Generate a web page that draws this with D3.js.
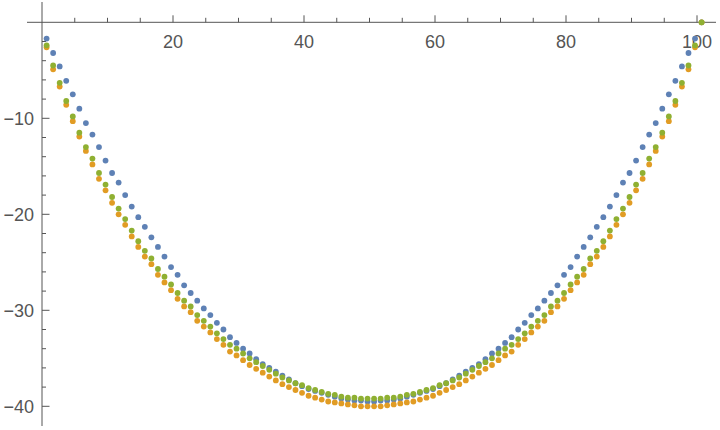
<!DOCTYPE html>
<html><head><meta charset="utf-8">
<script src="https://cdn.jsdelivr.net/npm/d3@7"></script>
<style>body{margin:0;background:#fff}</style>
</head><body>
<svg width="720" height="430"></svg>
<script>
// series values, index 1..101
const blue = [-1.7,-3.2,-4.6,-6.1,-7.5,-9.0,-10.5,-11.7,-13.0,-14.4,-15.7,-16.7,-18.0,-19.2,-20.3,-21.3,-22.4,-23.4,-24.4,-25.5,-26.3,-27.4,-28.2,-29.0,-29.8,-30.5,-31.3,-32.0,-32.8,-33.4,-34.0,-34.5,-35.1,-35.6,-36.0,-36.4,-36.8,-37.2,-37.6,-37.9,-38.2,-38.4,-38.6,-38.8,-39.0,-39.2,-39.3,-39.4,-39.4,-39.5,
  -39.5,-39.4,-39.4,-39.3,-39.2,-39.0,-38.8,-38.6,-38.4,-38.2,-37.9,-37.6,-37.2,-36.8,-36.4,-36.0,-35.6,-35.1,-34.5,-34.0,-33.4,-32.8,-32.0,-31.3,-30.5,-29.8,-29.0,-28.2,-27.4,-26.3,-25.5,-24.4,-23.4,-22.4,-21.3,-20.3,-19.2,-18.0,-16.7,-15.7,-14.4,-13.0,-11.7,-10.5,-9.0,-7.5,-6.1,-4.6,-3.2,-1.7,0];
const orange = [-2.6,-4.9,-6.7,-8.6,-10.3,-11.9,-13.4,-14.8,-16.3,-17.5,-18.8,-20.0,-21.1,-22.3,-23.4,-24.4,-25.2,-26.3,-27.1,-27.9,-28.8,-29.6,-30.2,-31.1,-31.7,-32.3,-33.0,-33.6,-34.3,-34.7,-35.2,-35.7,-36.1,-36.5,-36.9,-37.3,-37.7,-38.0,-38.3,-38.6,-38.9,-39.1,-39.3,-39.5,-39.6,-39.7,-39.8,-39.9,-40.0,-40.0,
  -40.0,-40.0,-39.9,-39.8,-39.7,-39.6,-39.5,-39.3,-39.1,-38.9,-38.6,-38.3,-38.0,-37.7,-37.3,-36.9,-36.5,-36.1,-35.7,-35.2,-34.7,-34.3,-33.6,-33.0,-32.3,-31.7,-31.1,-30.2,-29.6,-28.8,-27.9,-27.1,-26.3,-25.2,-24.4,-23.4,-22.3,-21.1,-20.0,-18.8,-17.5,-16.3,-14.8,-13.4,-11.9,-10.3,-8.6,-6.7,-4.9,-2.6,0];
const green = [-2.4,-4.5,-6.3,-8.2,-9.8,-11.5,-13.0,-14.2,-15.7,-16.9,-18.2,-19.4,-20.5,-21.7,-22.8,-23.8,-24.6,-25.7,-26.5,-27.3,-28.2,-29.0,-29.6,-30.5,-31.1,-31.7,-32.4,-33.0,-33.6,-34.0,-34.5,-35.0,-35.4,-35.8,-36.2,-36.6,-37.0,-37.3,-37.6,-37.8,-38.1,-38.3,-38.5,-38.7,-38.8,-39.0,-39.1,-39.1,-39.2,-39.2,
  -39.2,-39.2,-39.1,-39.1,-39.0,-38.8,-38.7,-38.5,-38.3,-38.1,-37.8,-37.6,-37.3,-37.0,-36.6,-36.2,-35.8,-35.4,-35.0,-34.5,-34.0,-33.6,-33.0,-32.4,-31.7,-31.1,-30.5,-29.6,-29.0,-28.2,-27.3,-26.5,-25.7,-24.6,-23.8,-22.8,-21.7,-20.5,-19.4,-18.2,-16.9,-15.7,-14.2,-13.0,-11.5,-9.8,-8.2,-6.3,-4.5,-2.4,0];
const series = [
  {values: blue, color: "#5e81b5"},
  {values: orange, color: "#e19c24"},
  {values: green, color: "#8fb032"}
];
const xMajor = [20, 40, 60, 80, 100];
const yMajor = [-10, -20, -30, -40];

const svg = d3.select("svg");
const x = d3.scaleLinear().domain([0, 100]).range([42, 697]);
const y = d3.scaleLinear().domain([0, -40]).range([22.3, 406.3]);
const axisColor = "#555";
const font = "'Liberation Sans', Arial, sans-serif";

// axes lines
svg.append("line").attr("x1", 27).attr("x2", 716).attr("y1", y(0)).attr("y2", y(0))
  .attr("stroke", axisColor).attr("stroke-width", 1);
svg.append("line").attr("x1", x(0)).attr("x2", x(0)).attr("y1", 2).attr("y2", 426)
  .attr("stroke", axisColor).attr("stroke-width", 1);

// x ticks
d3.range(5, 105, 5).forEach(t => {
  const major = t % 20 === 0;
  svg.append("line").attr("x1", x(t)).attr("x2", x(t))
    .attr("y1", y(0)).attr("y2", y(0) - (major ? 7 : 4.5))
    .attr("stroke", axisColor);
});
svg.selectAll(".xl").data(xMajor).join("text")
  .attr("x", d => x(d)).attr("y", y(0) + 26)
  .attr("text-anchor", "middle").attr("font-family", font).attr("font-size", 18)
  .attr("fill", "#555").text(d => d);

// y ticks
d3.range(-2, -42, -2).forEach(t => {
  const major = t % 10 === 0;
  svg.append("line").attr("x1", x(0)).attr("x2", x(0) + (major ? 7.5 : 4))
    .attr("y1", y(t)).attr("y2", y(t)).attr("stroke", axisColor);
});
svg.selectAll(".yl").data(yMajor).join("text")
  .attr("x", x(0) - 8).attr("y", d => y(d) + 6.5)
  .attr("text-anchor", "end").attr("font-family", font).attr("font-size", 18)
  .attr("fill", "#555").text(d => "\u2212" + Math.abs(d));

// points
series.forEach(s => {
  svg.append("g").selectAll("circle").data(s.values).join("circle")
    .attr("cx", (d, i) => x(i + 0.7))
    .attr("cy", d => y(d))
    .attr("r", 2.9)
    .attr("fill", s.color);
});
</script>
</body></html>
